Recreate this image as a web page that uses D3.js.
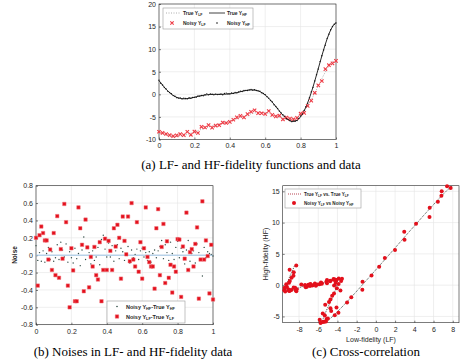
<!DOCTYPE html>
<meta charset="utf-8">
<style>
body { margin: 0; background: #fff; }
text { font-family: "Liberation Sans", Arial, sans-serif; fill: #262626; }
.caption { font-family: "Liberation Serif", "Times New Roman", serif; font-size: 13px; text-anchor: middle; fill: #000; }
</style>
<svg width="474" height="363"></svg>
<script src="https://d3js.org/d3.v7.min.js"></script>
<script>

// sample locations (0 .. 1, step 0.01)
var xs = [0,0.01,0.02,0.03,0.04,0.05,0.06,0.07,0.08,0.09,
  0.1,0.11,0.12,0.13,0.14,0.15,0.16,0.17,0.18,0.19,
  0.2,0.21,0.22,0.23,0.24,0.25,0.26,0.27,0.28,0.29,
  0.3,0.31,0.32,0.33,0.34,0.35,0.36,0.37,0.38,0.39,
  0.4,0.41,0.42,0.43,0.44,0.45,0.46,0.47,0.48,0.49,
  0.5,0.51,0.52,0.53,0.54,0.55,0.56,0.57,0.58,0.59,
  0.6,0.61,0.62,0.63,0.64,0.65,0.66,0.67,0.68,0.69,
  0.7,0.71,0.72,0.73,0.74,0.75,0.76,0.77,0.78,0.79,
  0.8,0.81,0.82,0.83,0.84,0.85,0.86,0.87,0.88,0.89,
  0.9,0.91,0.92,0.93,0.94,0.95,0.96,0.97,0.98,0.99,1];

// true high-fidelity curve
var hfTrue = [3.03,2.53,2.05,1.58,1.14,0.74,0.37,0.05,-0.23,-0.47,
  -0.66,-0.80,-0.90,-0.96,-0.99,-0.98,-0.95,-0.89,-0.82,-0.73,
  -0.64,-0.55,-0.45,-0.36,-0.28,-0.21,-0.15,-0.10,-0.06,-0.03,
  -0.02,-0.01,0,0,0,0,0.01,0.02,0.04,0.07,
  0.12,0.17,0.23,0.31,0.39,0.48,0.58,0.67,0.76,0.84,
  0.91,0.96,0.98,0.98,0.95,0.87,0.76,0.60,0.39,0.15,
  -0.15,-0.49,-0.87,-1.29,-1.74,-2.21,-2.70,-3.19,-3.68,-4.16,
  -4.61,-5.02,-5.37,-5.66,-5.86,-5.99,-6.02,-5.94,-5.74,-5.42,
  -4.95,-4.36,-3.64,-2.80,-1.85,-0.80,0.37,1.62,2.94,4.31,
  5.71,7.12,8.51,9.85,11.13,12.30,13.35,14.26,14.99,15.52,
  15.83];

// true low-fidelity curve
var lfTrue = [-8.49,-8.63,-8.78,-8.91,-9.03,-9.13,-9.21,-9.28,-9.32,-9.33,
  -9.33,-9.30,-9.25,-9.18,-9.09,-8.99,-8.87,-8.74,-8.61,-8.47,
  -8.32,-8.17,-8.03,-7.88,-7.74,-7.61,-7.47,-7.35,-7.23,-7.12,
  -7.01,-6.90,-6.80,-6.70,-6.60,-6.50,-6.40,-6.29,-6.18,-6.06,
  -5.94,-5.82,-5.68,-5.55,-5.40,-5.26,-5.11,-4.96,-4.82,-4.68,
  -4.55,-4.42,-4.31,-4.21,-4.13,-4.06,-4.02,-4.00,-4.00,-4.03,
  -4.08,-4.14,-4.24,-4.34,-4.47,-4.60,-4.75,-4.89,-5.04,-5.18,
  -5.30,-5.41,-5.49,-5.53,-5.53,-5.50,-5.41,-5.27,-5.07,-4.81,
  -4.47,-4.08,-3.62,-3.10,-2.52,-1.90,-1.22,-0.49,0.27,1.06,
  1.86,2.66,3.45,4.23,4.96,5.65,6.28,6.83,7.29,7.66,
  7.92];

// noise
var noiseLF = [0.20,-0.35,0.23,0.33,0.255,0.17,0.17,-0.05,0.065,-0.17,
  0.255,-0.23,0.45,-0.26,0.07,-0.04,0.59,0.38,-0.35,-0.60,
  0.08,-0.175,-0.53,-0.53,0.55,0.31,0.12,-0.415,0.41,0.09,
  -0.37,-0.02,-0.13,0.095,-0.23,-0.28,0.15,-0.53,-0.17,0.19,
  -0.17,0.165,0.05,-0.17,0.31,0.10,0.35,0.20,-0.27,0.445,
  0.165,0.01,0.445,-0.07,0.60,-0.05,-0.13,0.38,-0.19,0.15,
  -0.27,0.08,0.55,-0.02,-0.08,-0.13,-0.13,-0.385,0.31,0.53,
  -0.23,0.095,0.36,-0.32,0.16,-0.26,-0.11,-0.43,-0.13,-0.19,
  0.185,0.18,-0.48,0.10,-0.04,0.49,-0.17,0.035,0.07,-0.13,
  0.13,0.32,-0.50,-0.05,0.62,-0.05,0.17,-0.01,-0.44,0.12,
  -0.51];

var noiseHF = [0.11,-0.06,0.03,-0.07,0.05,-0.08,0.02,0.09,-0.05,0.04,
  -0.07,-0.03,0.12,-0.05,0.15,0.06,-0.02,0.13,-0.08,0.04,
  -0.03,-0.09,0.08,-0.04,0.02,-0.12,0.06,0.21,-0.05,0.1,
  0.03,-0.1,0.05,-0.06,-0.02,0.09,-0.11,0.18,0.23,0.07,
  -0.02,0.14,-0.02,0.11,-0.07,0.05,0.12,-0.04,0.08,0.04,
  -0.06,0.02,0.1,-0.09,0.06,-0.03,0.01,0.07,-0.05,0.05,
  0.08,-0.02,0.03,-0.06,0.04,-0.08,0.02,0.06,-0.03,0.05,
  0.1,0.17,-0.04,0.12,0.03,-0.06,0.15,0.02,-0.05,0.09,
  0.16,-0.03,0.08,0.04,-0.1,0.06,0.17,-0.07,0.02,0.05,
  -0.09,0.13,0.03,-0.05,-0.24,0.09,-0.03,0.04,0.02,0.01,
  -0.01];

// tick labels
var ticksA_x = [0, 0.2, 0.4, 0.6, 0.8, 1];
var ticksA_y = [-10, -5, 0, 5, 10, 15, 20];
var ticksB_x = [0, 0.2, 0.4, 0.6, 0.8, 1];
var ticksB_y = [-0.8, -0.6, -0.4, -0.2, 0, 0.2, 0.4, 0.6, 0.8];
var ticksC_x = [-8, -6, -4, -2, 0, 2, 4, 6, 8];
var ticksC_y = [-5, 0, 5, 10, 15];

var captions = ["(a) LF- and HF-fidelity functions and data",
  "(b) Noises in LF- and HF-fidelity data",
  "(c) Cross-correlation"];

var red = "#e3101c";
var svg = d3.select("svg");

var pts = xs.map(function(x, i) {
  return {x: x, hf: hfTrue[i], lf: lfTrue[i],
    nLF: noiseLF[i], nHF: noiseHF[i],
    yLF: lfTrue[i] + noiseLF[i], yHF: hfTrue[i] + noiseHF[i]};
});

var fmt = function(d) { return String(+d.toFixed(1)); };

function frame(g, x, y, xt, yt) {
  var x0 = x.range()[0], x1 = x.range()[1], yb = y.range()[0], yt0 = y.range()[1];
  g.append("g").selectAll("line").data(xt).join("line")
    .attr("x1", function(d) { return x(d); }).attr("x2", function(d) { return x(d); })
    .attr("y1", yb).attr("y2", yt0)
    .attr("stroke", "#e4e4e4").attr("stroke-width", 0.6);
  g.append("g").selectAll("line").data(yt).join("line")
    .attr("y1", function(d) { return y(d); }).attr("y2", function(d) { return y(d); })
    .attr("x1", x0).attr("x2", x1)
    .attr("stroke", "#e4e4e4").attr("stroke-width", 0.6);

  g.append("g").attr("transform", "translate(0," + yb + ")")
    .call(d3.axisBottom(x).tickValues(xt).tickFormat(fmt).tickSize(-2).tickPadding(4))
    .call(function(a) { a.select(".domain").remove(); })
    .attr("font-size", 7).attr("font-family", "Liberation Sans, Arial, sans-serif");
  g.append("g").attr("transform", "translate(" + x0 + ",0)")
    .call(d3.axisLeft(y).tickValues(yt).tickFormat(fmt).tickSize(-2).tickPadding(3))
    .call(function(a) { a.select(".domain").remove(); })
    .attr("font-size", 7).attr("font-family", "Liberation Sans, Arial, sans-serif");
  g.selectAll(".tick line").attr("stroke", "#262626").attr("stroke-width", 0.6);
  g.selectAll(".tick text").attr("fill", "#262626");

  g.append("rect").attr("x", x0).attr("y", yt0)
    .attr("width", x1 - x0).attr("height", yb - yt0)
    .attr("fill", "none").attr("stroke", "#262626").attr("stroke-width", 0.6);
}

// text with subscripts: parts are strings or {sub: "..."}
function label(g, x, y, parts, size) {
  var t = g.append("text").attr("x", x).attr("y", y)
    .attr("font-size", size).attr("font-weight", "bold");
  var shifted = false;
  parts.forEach(function(p) {
    if (typeof p === "string") {
      t.append("tspan").attr("dy", shifted ? -size * 0.3 : 0).text(p);
      shifted = false;
    } else {
      t.append("tspan").attr("dy", size * 0.3).attr("font-size", size * 0.7).text(p.sub);
      shifted = true;
    }
  });
}

function legendBox(g, x, y, w, h) {
  g.append("rect").attr("x", x).attr("y", y).attr("width", w).attr("height", h)
    .attr("fill", "#fff").attr("stroke", "#9a9a9a").attr("stroke-width", 0.6);
}

// ---------- (a) ----------
var xa = d3.scaleLinear().domain([0, 1]).range([159, 336]);
var ya = d3.scaleLinear().domain([-10, 20]).range([139.5, 4]);
var ga = svg.append("g");
frame(ga, xa, ya, ticksA_x, ticksA_y);

ga.append("path").datum(pts)
  .attr("fill", "none").attr("stroke", "#999").attr("stroke-width", 0.8)
  .attr("stroke-dasharray", "1,1.5")
  .attr("d", d3.line().x(function(d) { return xa(d.x); }).y(function(d) { return ya(d.lf); }));
ga.append("path").datum(pts)
  .attr("fill", "none").attr("stroke", "#111").attr("stroke-width", 0.9)
  .attr("d", d3.line().x(function(d) { return xa(d.x); }).y(function(d) { return ya(d.hf); }));

var xMark = d3.symbol().type(d3.symbolX).size(9);
// every other LF sample is marked in (a)
ga.append("g").selectAll("path").data(pts.filter(function(d, i) { return i % 2 === 0; })).join("path")
  .attr("transform", function(d) { return "translate(" + xa(d.x) + "," + ya(d.yLF) + ")"; })
  .attr("d", xMark).attr("fill", "none").attr("stroke", "#ee3a44").attr("stroke-width", 1.1);
ga.append("g").selectAll("circle").data(pts).join("circle")
  .attr("cx", function(d) { return xa(d.x); }).attr("cy", function(d) { return ya(d.yHF); })
  .attr("r", 0.7).attr("fill", "#111");

legendBox(ga, 163, 8, 90, 21);
ga.append("line").attr("x1", 166).attr("x2", 181).attr("y1", 13).attr("y2", 13)
  .attr("stroke", "#999").attr("stroke-width", 0.8).attr("stroke-dasharray", "1,1.5");
label(ga, 183, 14.5, ["True Y", {sub: "LF"}], 5);
ga.append("line").attr("x1", 209).attr("x2", 225).attr("y1", 13).attr("y2", 13)
  .attr("stroke", "#111").attr("stroke-width", 0.8);
label(ga, 227, 14.5, ["True Y", {sub: "HF"}], 5);
ga.append("path").attr("transform", "translate(172,23)").attr("d", xMark)
  .attr("fill", "none").attr("stroke", "#ee3a44").attr("stroke-width", 1.1);
label(ga, 183, 24.5, ["Noisy Y", {sub: "LF"}], 5);
ga.append("circle").attr("cx", 217).attr("cy", 23).attr("r", 0.8).attr("fill", "#111");
label(ga, 227, 24.5, ["Noisy Y", {sub: "HF"}], 5);

// ---------- (b) ----------
var xb = d3.scaleLinear().domain([0, 1]).range([36, 213]);
var yb = d3.scaleLinear().domain([-0.8, 0.8]).range([324.7, 185.7]);
var gb = svg.append("g");
frame(gb, xb, yb, ticksB_x, ticksB_y);
gb.append("line").attr("x1", xb(0)).attr("x2", xb(1)).attr("y1", yb(0)).attr("y2", yb(0))
  .attr("stroke", "#9cc3e4").attr("stroke-width", 1);

var sq = d3.symbol().type(d3.symbolSquare).size(12);
gb.append("g").selectAll("circle").data(pts).join("circle")
  .attr("cx", function(d) { return xb(d.x); }).attr("cy", function(d) { return yb(d.nHF); })
  .attr("r", 0.7).attr("fill", "#2f4a44");
gb.append("g").selectAll("path").data(pts).join("path")
  .attr("transform", function(d) { return "translate(" + xb(d.x) + "," + yb(d.nLF) + ")"; })
  .attr("d", sq).attr("fill", red).attr("stroke", "#f07078").attr("stroke-width", 0.5);

gb.append("text").attr("transform", "translate(17,255) rotate(-90)")
  .attr("text-anchor", "middle").attr("font-size", 6.5).attr("font-weight", "bold").text("Noise");

legendBox(gb, 107, 301, 78, 22);
gb.append("circle").attr("cx", 117).attr("cy", 306.5).attr("r", 0.8).attr("fill", "#2f4a44");
label(gb, 126, 308.5, ["Noisy Y", {sub: "HF"}, "-True Y", {sub: "HF"}], 5.5);
gb.append("path").attr("transform", "translate(117,316.5)").attr("d", sq)
  .attr("fill", red).attr("stroke", "#f07078").attr("stroke-width", 0.5);
label(gb, 126, 318.5, ["Noisy Y", {sub: "LF"}, "-True Y", {sub: "LF"}], 5.5);

// ---------- (c) ----------
var xc = d3.scaleLinear().domain([-9.7, 8.65]).range([282.7, 459]);
var yc = d3.scaleLinear().domain([-6, 15.9]).range([322.7, 185.7]);
var gc = svg.append("g");
frame(gc, xc, yc, ticksC_x, ticksC_y);

gc.append("path").datum(pts)
  .attr("fill", "none").attr("stroke", "#2b3b36").attr("stroke-width", 0.9)
  .attr("stroke-dasharray", "1,1")
  .attr("d", d3.line().x(function(d) { return xc(d.lf); }).y(function(d) { return yc(d.hf); }));
gc.append("g").selectAll("circle").data(pts).join("circle")
  .attr("cx", function(d) { return xc(d.yLF); }).attr("cy", function(d) { return yc(d.yHF); })
  .attr("r", 2).attr("fill", red);

gc.append("text").attr("x", 371).attr("y", 342).attr("text-anchor", "middle")
  .attr("font-size", 7).text("Low-fidelity (LF)");
gc.append("text").attr("transform", "translate(268,254) rotate(-90)")
  .attr("text-anchor", "middle").attr("font-size", 7).text("High-fidelity (HF)");

legendBox(gc, 285, 189, 76, 19);
gc.append("line").attr("x1", 288).attr("x2", 302).attr("y1", 194).attr("y2", 194)
  .attr("stroke", "#b03040").attr("stroke-width", 0.9).attr("stroke-dasharray", "1,1");
label(gc, 304, 195.5, ["True Y", {sub: "LF"}, " vs. True Y", {sub: "LF"}], 4.6);
gc.append("circle").attr("cx", 294).attr("cy", 203).attr("r", 2).attr("fill", red);
label(gc, 304, 204.5, ["Noisy Y", {sub: "LF"}, " vs Noisy Y", {sub: "HF"}], 4.6);

// captions
svg.append("text").attr("class", "caption").attr("x", 251).attr("y", 169).text(captions[0]);
svg.append("text").attr("class", "caption").attr("x", 133).attr("y", 356).text(captions[1]);
svg.append("text").attr("class", "caption").attr("x", 366).attr("y", 356).text(captions[2]);

</script>
